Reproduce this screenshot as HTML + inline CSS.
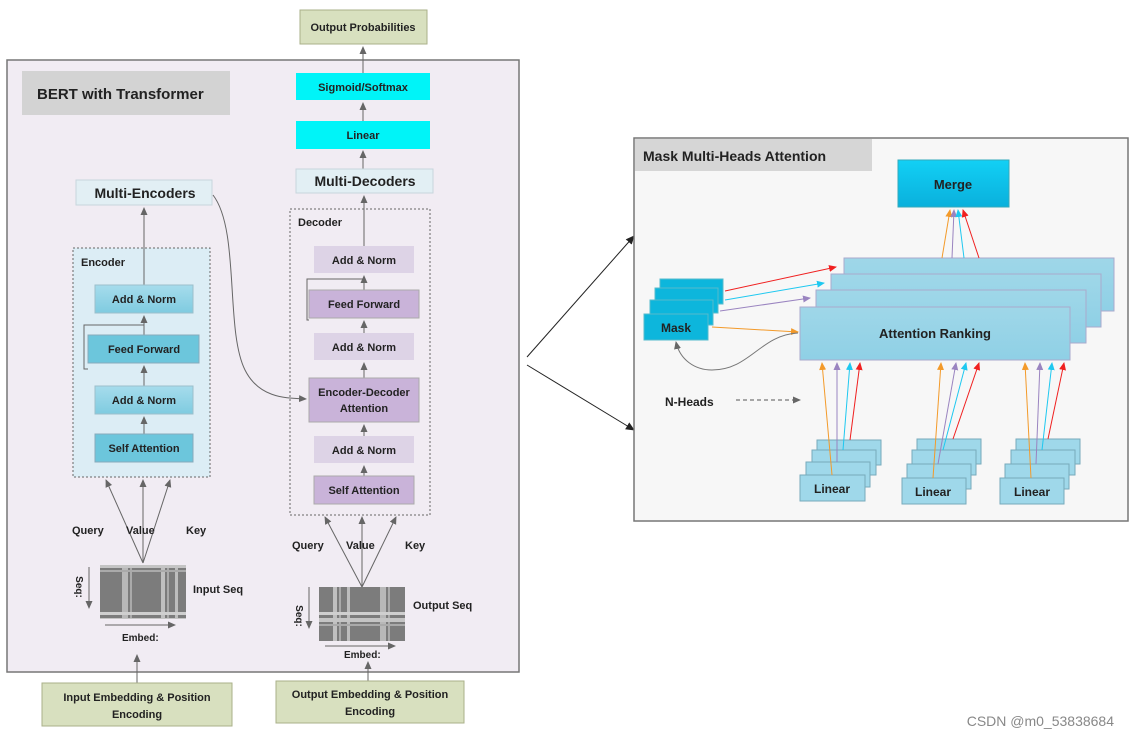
<!DOCTYPE html>
<html><head><meta charset="utf-8"><style>
body{margin:0;background:#fff}
svg{display:block}
text{font-family:"Liberation Sans",sans-serif;font-weight:bold;fill:#222}
</style></head><body>
<svg width="1129" height="739" viewBox="0 0 1129 739" xmlns="http://www.w3.org/2000/svg">
<defs>
<marker id="ag" markerWidth="8" markerHeight="8" refX="7" refY="4" orient="auto" markerUnits="userSpaceOnUse"><path d="M0,0.5 L8,4 L0,7.5Z" fill="#666"/></marker>
<marker id="ak" markerWidth="9" markerHeight="9" refX="8" refY="4.5" orient="auto" markerUnits="userSpaceOnUse"><path d="M0,0.5 L9,4.5 L0,8.5Z" fill="#222"/></marker>
<marker id="ao" markerWidth="8" markerHeight="8" refX="7" refY="4" orient="auto" markerUnits="userSpaceOnUse"><path d="M0,0.5 L8,4 L0,7.5Z" fill="#f39a2a"/></marker>
<marker id="ap" markerWidth="8" markerHeight="8" refX="7" refY="4" orient="auto" markerUnits="userSpaceOnUse"><path d="M0,0.5 L8,4 L0,7.5Z" fill="#9a84c0"/></marker>
<marker id="ac" markerWidth="8" markerHeight="8" refX="7" refY="4" orient="auto" markerUnits="userSpaceOnUse"><path d="M0,0.5 L8,4 L0,7.5Z" fill="#1ec8f0"/></marker>
<marker id="ar" markerWidth="8" markerHeight="8" refX="7" refY="4" orient="auto" markerUnits="userSpaceOnUse"><path d="M0,0.5 L8,4 L0,7.5Z" fill="#f02020"/></marker>
<linearGradient id="gb" x1="0" y1="0" x2="0" y2="1"><stop offset="0" stop-color="#a6dcec"/><stop offset="1" stop-color="#7fcbe0"/></linearGradient>
<linearGradient id="gm" x1="0" y1="0" x2="0" y2="1"><stop offset="0" stop-color="#12d0f5"/><stop offset="1" stop-color="#0ab0dc"/></linearGradient>
<linearGradient id="ga" x1="0" y1="0" x2="0" y2="1"><stop offset="0" stop-color="#9fd7e8"/><stop offset="1" stop-color="#8fd0e6"/></linearGradient>
<pattern id="mx" width="86" height="54" patternUnits="userSpaceOnUse">
<rect width="86" height="54" fill="#7c7c7c"/>
<rect x="3" width="3" height="54" fill="#bdbdbd"/><rect x="36" width="6" height="54" fill="#b8b8b8"/><rect x="44" width="2" height="54" fill="#aaa"/><rect x="75" width="4" height="54" fill="#c0c0c0"/><rect x="81" width="2" height="54" fill="#aaa"/>
<rect y="18" width="86" height="3" fill="#cfcfcf"/><rect y="24" width="86" height="4" fill="#c4c4c4"/><rect y="30" width="86" height="2" fill="#aaa"/>
</pattern>
</defs>

<!-- Left main panel -->
<rect x="7" y="60" width="512" height="612" fill="#f1ecf3" stroke="#777" stroke-width="1.5"/>
<rect x="22" y="71" width="208" height="44" fill="#d3d3d3"/>
<text x="37" y="99" font-size="15">BERT with Transformer</text>

<rect x="300" y="10" width="127" height="34" fill="#d8e0bf" stroke="#aab08a"/>
<text x="363" y="31" font-size="11" text-anchor="middle">Output Probabilities</text>
<line x1="363" y1="73" x2="363" y2="47" stroke="#666" marker-end="url(#ag)"/>
<rect x="296" y="73" width="134" height="27" fill="#00f4f8"/>
<text x="363" y="91" font-size="11" text-anchor="middle">Sigmoid/Softmax</text>
<line x1="363" y1="121" x2="363" y2="103" stroke="#666" marker-end="url(#ag)"/>
<rect x="296" y="121" width="134" height="28" fill="#00f4f8"/>
<text x="363" y="139" font-size="11" text-anchor="middle">Linear</text>
<line x1="363" y1="169" x2="363" y2="151" stroke="#666" marker-end="url(#ag)"/>
<rect x="296" y="169" width="137" height="24" fill="#e2eff4" stroke="#c8d6dc"/>
<text x="365" y="186" font-size="14" text-anchor="middle">Multi-Decoders</text>

<rect x="76" y="180" width="136" height="25" fill="#e2eff4" stroke="#c8d6dc"/>
<text x="145" y="198" font-size="14" text-anchor="middle">Multi-Encoders</text>

<!-- Encoder -->
<rect x="73" y="248" width="137" height="229" fill="#dcedf5" stroke="#666" stroke-dasharray="2,2"/>
<text x="81" y="266" font-size="11">Encoder</text>
<line x1="144" y1="285" x2="144" y2="208" stroke="#666" marker-end="url(#ag)"/>
<rect x="95" y="285" width="98" height="28" fill="url(#gb)" stroke="#9bbfcb"/>
<text x="144" y="303" font-size="11" text-anchor="middle">Add &amp; Norm</text>
<path d="M88,369 L84,369 L84,325 L144,325" fill="none" stroke="#666"/>
<line x1="144" y1="335" x2="144" y2="316" stroke="#666" marker-end="url(#ag)"/>
<rect x="88" y="335" width="111" height="28" fill="#6cc6dc" stroke="#8ab"/>
<text x="144" y="353" font-size="11" text-anchor="middle">Feed Forward</text>
<line x1="144" y1="386" x2="144" y2="366" stroke="#666" marker-end="url(#ag)"/>
<rect x="95" y="386" width="98" height="28" fill="url(#gb)" stroke="#9bbfcb"/>
<text x="144" y="404" font-size="11" text-anchor="middle">Add &amp; Norm</text>
<line x1="144" y1="434" x2="144" y2="417" stroke="#666" marker-end="url(#ag)"/>
<rect x="95" y="434" width="98" height="28" fill="#6cc6dc" stroke="#8ab"/>
<text x="144" y="452" font-size="11" text-anchor="middle">Self Attention</text>

<!-- Decoder -->
<rect x="290" y="209" width="140" height="306" fill="none" stroke="#666" stroke-dasharray="2,2"/>
<text x="298" y="226" font-size="11">Decoder</text>
<line x1="364" y1="246" x2="364" y2="196" stroke="#666" marker-end="url(#ag)"/>
<rect x="314" y="246" width="100" height="27" fill="#ddd3e6"/>
<text x="364" y="264" font-size="11" text-anchor="middle">Add &amp; Norm</text>
<path d="M309,320 L307,320 L307,279 L364,279" fill="none" stroke="#666"/>
<line x1="364" y1="290" x2="364" y2="276" stroke="#666" marker-end="url(#ag)"/>
<rect x="309" y="290" width="110" height="28" fill="#c9b3d9" stroke="#aaa"/>
<text x="364" y="308" font-size="11" text-anchor="middle">Feed Forward</text>
<line x1="364" y1="333" x2="364" y2="321" stroke="#666" marker-end="url(#ag)"/>
<rect x="314" y="333" width="100" height="27" fill="#ddd3e6"/>
<text x="364" y="351" font-size="11" text-anchor="middle">Add &amp; Norm</text>
<line x1="364" y1="378" x2="364" y2="363" stroke="#666" marker-end="url(#ag)"/>
<rect x="309" y="378" width="110" height="44" fill="#c9b3d9" stroke="#aaa"/>
<text x="364" y="396" font-size="11" text-anchor="middle">Encoder-Decoder</text>
<text x="364" y="412" font-size="11" text-anchor="middle">Attention</text>
<line x1="364" y1="436" x2="364" y2="425" stroke="#666" marker-end="url(#ag)"/>
<rect x="314" y="436" width="100" height="27" fill="#ddd3e6"/>
<text x="364" y="454" font-size="11" text-anchor="middle">Add &amp; Norm</text>
<line x1="364" y1="476" x2="364" y2="466" stroke="#666" marker-end="url(#ag)"/>
<rect x="314" y="476" width="100" height="28" fill="#c9b3d9" stroke="#aaa"/>
<text x="364" y="494" font-size="11" text-anchor="middle">Self Attention</text>

<!-- curve from multi-encoders -->
<path d="M213,195 C240,230 225,330 245,370 C260,400 290,398 306,399" fill="none" stroke="#666" marker-end="url(#ag)"/>

<!-- encoder inputs -->
<line x1="143" y1="563" x2="106" y2="480" stroke="#666" marker-end="url(#ag)"/>
<line x1="143" y1="563" x2="143" y2="480" stroke="#666" marker-end="url(#ag)"/>
<line x1="143" y1="563" x2="170" y2="480" stroke="#666" marker-end="url(#ag)"/>
<text x="72" y="534" font-size="11" font-weight="normal" style="font-weight:bold">Query</text>
<text x="126" y="534" font-size="11">Value</text>
<text x="186" y="534" font-size="11">Key</text>
<rect x="100" y="565" width="86" height="54" fill="url(#mx)"/>
<line x1="89" y1="567" x2="89" y2="608" stroke="#666" marker-end="url(#ag)"/>
<text x="76" y="587" font-size="10" transform="rotate(90 76 587)" text-anchor="middle">Seq:</text>
<line x1="105" y1="625" x2="175" y2="625" stroke="#666" marker-end="url(#ag)"/>
<text x="122" y="641" font-size="10">Embed:</text>
<text x="193" y="593" font-size="11">Input Seq</text>
<line x1="137" y1="683" x2="137" y2="655" stroke="#666" marker-end="url(#ag)"/>
<rect x="42" y="683" width="190" height="43" fill="#d8e0bf" stroke="#aab08a"/>
<text x="137" y="701" font-size="11" text-anchor="middle">Input Embedding &amp; Position</text>
<text x="137" y="718" font-size="11" text-anchor="middle">Encoding</text>

<!-- decoder inputs -->
<line x1="362" y1="587" x2="325" y2="517" stroke="#666" marker-end="url(#ag)"/>
<line x1="362" y1="587" x2="362" y2="517" stroke="#666" marker-end="url(#ag)"/>
<line x1="362" y1="587" x2="396" y2="517" stroke="#666" marker-end="url(#ag)"/>
<text x="292" y="549" font-size="11">Query</text>
<text x="346" y="549" font-size="11">Value</text>
<text x="405" y="549" font-size="11">Key</text>
<rect x="319" y="587" width="86" height="54" fill="url(#mx)"/>
<line x1="309" y1="587" x2="309" y2="628" stroke="#666" marker-end="url(#ag)"/>
<text x="296" y="616" font-size="10" transform="rotate(90 296 616)" text-anchor="middle">Seq:</text>
<line x1="325" y1="646" x2="395" y2="646" stroke="#666" marker-end="url(#ag)"/>
<text x="344" y="658" font-size="10">Embed:</text>
<text x="413" y="609" font-size="11">Output Seq</text>
<line x1="368" y1="681" x2="368" y2="662" stroke="#666" marker-end="url(#ag)"/>
<rect x="276" y="681" width="188" height="42" fill="#d8e0bf" stroke="#aab08a"/>
<text x="370" y="698" font-size="11" text-anchor="middle">Output Embedding &amp; Position</text>
<text x="370" y="715" font-size="11" text-anchor="middle">Encoding</text>

<!-- connecting arrows -->
<line x1="527" y1="357" x2="634" y2="236" stroke="#222" marker-end="url(#ak)"/>
<line x1="527" y1="365" x2="634" y2="430" stroke="#222" marker-end="url(#ak)"/>

<!-- Right panel -->
<rect x="634" y="138" width="494" height="383" fill="#f7f7f7" stroke="#777" stroke-width="1.5"/>
<rect x="635" y="139" width="237" height="32" fill="#d6d6d6"/>
<text x="643" y="161" font-size="14">Mask Multi-Heads Attention</text>
<rect x="898" y="160" width="111" height="47" fill="url(#gm)" stroke="#3ab"/>
<text x="953" y="189" font-size="13" text-anchor="middle">Merge</text>

<rect x="844" y="258" width="270" height="53" fill="url(#ga)" stroke="#aac"/>
<rect x="831" y="274" width="270" height="53" fill="url(#ga)" stroke="#aac"/>
<rect x="816" y="290" width="270" height="53" fill="url(#ga)" stroke="#aac"/>
<rect x="800" y="307" width="270" height="53" fill="url(#ga)" stroke="#aac"/>
<text x="935" y="338" font-size="13" text-anchor="middle">Attention Ranking</text>

<line x1="942" y1="258" x2="950" y2="210" stroke="#f39a2a" marker-end="url(#ao)"/>
<line x1="952" y1="258" x2="954" y2="210" stroke="#9a84c0" marker-end="url(#ap)"/>
<line x1="964" y1="258" x2="958" y2="210" stroke="#1ec8f0" marker-end="url(#ac)"/>
<line x1="979" y1="258" x2="963" y2="210" stroke="#f02020" marker-end="url(#ar)"/>

<rect x="660" y="279" width="63" height="25" fill="#0db6dc" stroke="#5bc"/>
<rect x="655" y="288" width="63" height="25" fill="#0db6dc" stroke="#5bc"/>
<rect x="650" y="300" width="63" height="25" fill="#0db6dc" stroke="#5bc"/>
<rect x="644" y="314" width="64" height="26" fill="#0db6dc" stroke="#5bc"/>
<text x="676" y="332" font-size="12" text-anchor="middle">Mask</text>
<line x1="725" y1="291" x2="836" y2="267" stroke="#f02020" marker-end="url(#ar)"/>
<line x1="725" y1="300" x2="824" y2="283" stroke="#1ec8f0" marker-end="url(#ac)"/>
<line x1="720" y1="311" x2="810" y2="298" stroke="#9a84c0" marker-end="url(#ap)"/>
<line x1="712" y1="327" x2="798" y2="332" stroke="#f39a2a" marker-end="url(#ao)"/>
<path d="M798,333 C760,335 750,370 712,370 C695,370 680,360 676,342" fill="none" stroke="#777" marker-end="url(#ag)"/>

<text x="665" y="406" font-size="12">N-Heads</text>
<line x1="736" y1="400" x2="800" y2="400" stroke="#555" stroke-dasharray="4,3" marker-end="url(#ag)"/>

<!-- Linear groups -->
<g stroke="#7ab">
<rect x="817" y="440" width="64" height="25" fill="#9fd8ea"/><rect x="812" y="450" width="64" height="25" fill="#9fd8ea"/><rect x="806" y="462" width="64" height="25" fill="#9fd8ea"/><rect x="800" y="475" width="65" height="26" fill="#9fd8ea"/>
<rect x="917" y="439" width="64" height="25" fill="#9fd8ea"/><rect x="912" y="450" width="64" height="25" fill="#9fd8ea"/><rect x="907" y="464" width="64" height="25" fill="#9fd8ea"/><rect x="902" y="478" width="64" height="26" fill="#9fd8ea"/>
<rect x="1016" y="439" width="64" height="25" fill="#9fd8ea"/><rect x="1011" y="450" width="64" height="25" fill="#9fd8ea"/><rect x="1005" y="464" width="64" height="25" fill="#9fd8ea"/><rect x="1000" y="478" width="64" height="26" fill="#9fd8ea"/>
</g>
<text x="832" y="493" font-size="12" text-anchor="middle">Linear</text>
<text x="933" y="496" font-size="12" text-anchor="middle">Linear</text>
<text x="1032" y="496" font-size="12" text-anchor="middle">Linear</text>

<line x1="832" y1="475" x2="822" y2="363" stroke="#f39a2a" marker-end="url(#ao)"/>
<line x1="837" y1="462" x2="837" y2="363" stroke="#9a84c0" marker-end="url(#ap)"/>
<line x1="843" y1="450" x2="850" y2="363" stroke="#1ec8f0" marker-end="url(#ac)"/>
<line x1="850" y1="440" x2="860" y2="363" stroke="#f02020" marker-end="url(#ar)"/>
<line x1="933" y1="478" x2="941" y2="363" stroke="#f39a2a" marker-end="url(#ao)"/>
<line x1="938" y1="464" x2="956" y2="363" stroke="#9a84c0" marker-end="url(#ap)"/>
<line x1="943" y1="450" x2="966" y2="363" stroke="#1ec8f0" marker-end="url(#ac)"/>
<line x1="953" y1="439" x2="979" y2="363" stroke="#f02020" marker-end="url(#ar)"/>
<line x1="1031" y1="478" x2="1025" y2="363" stroke="#f39a2a" marker-end="url(#ao)"/>
<line x1="1036" y1="464" x2="1040" y2="363" stroke="#9a84c0" marker-end="url(#ap)"/>
<line x1="1042" y1="450" x2="1052" y2="363" stroke="#1ec8f0" marker-end="url(#ac)"/>
<line x1="1048" y1="439" x2="1064" y2="363" stroke="#f02020" marker-end="url(#ar)"/>

<text x="1114" y="726" font-size="14" text-anchor="end" style="font-weight:normal;fill:#888">CSDN @m0_53838684</text>
</svg>
</body></html>
